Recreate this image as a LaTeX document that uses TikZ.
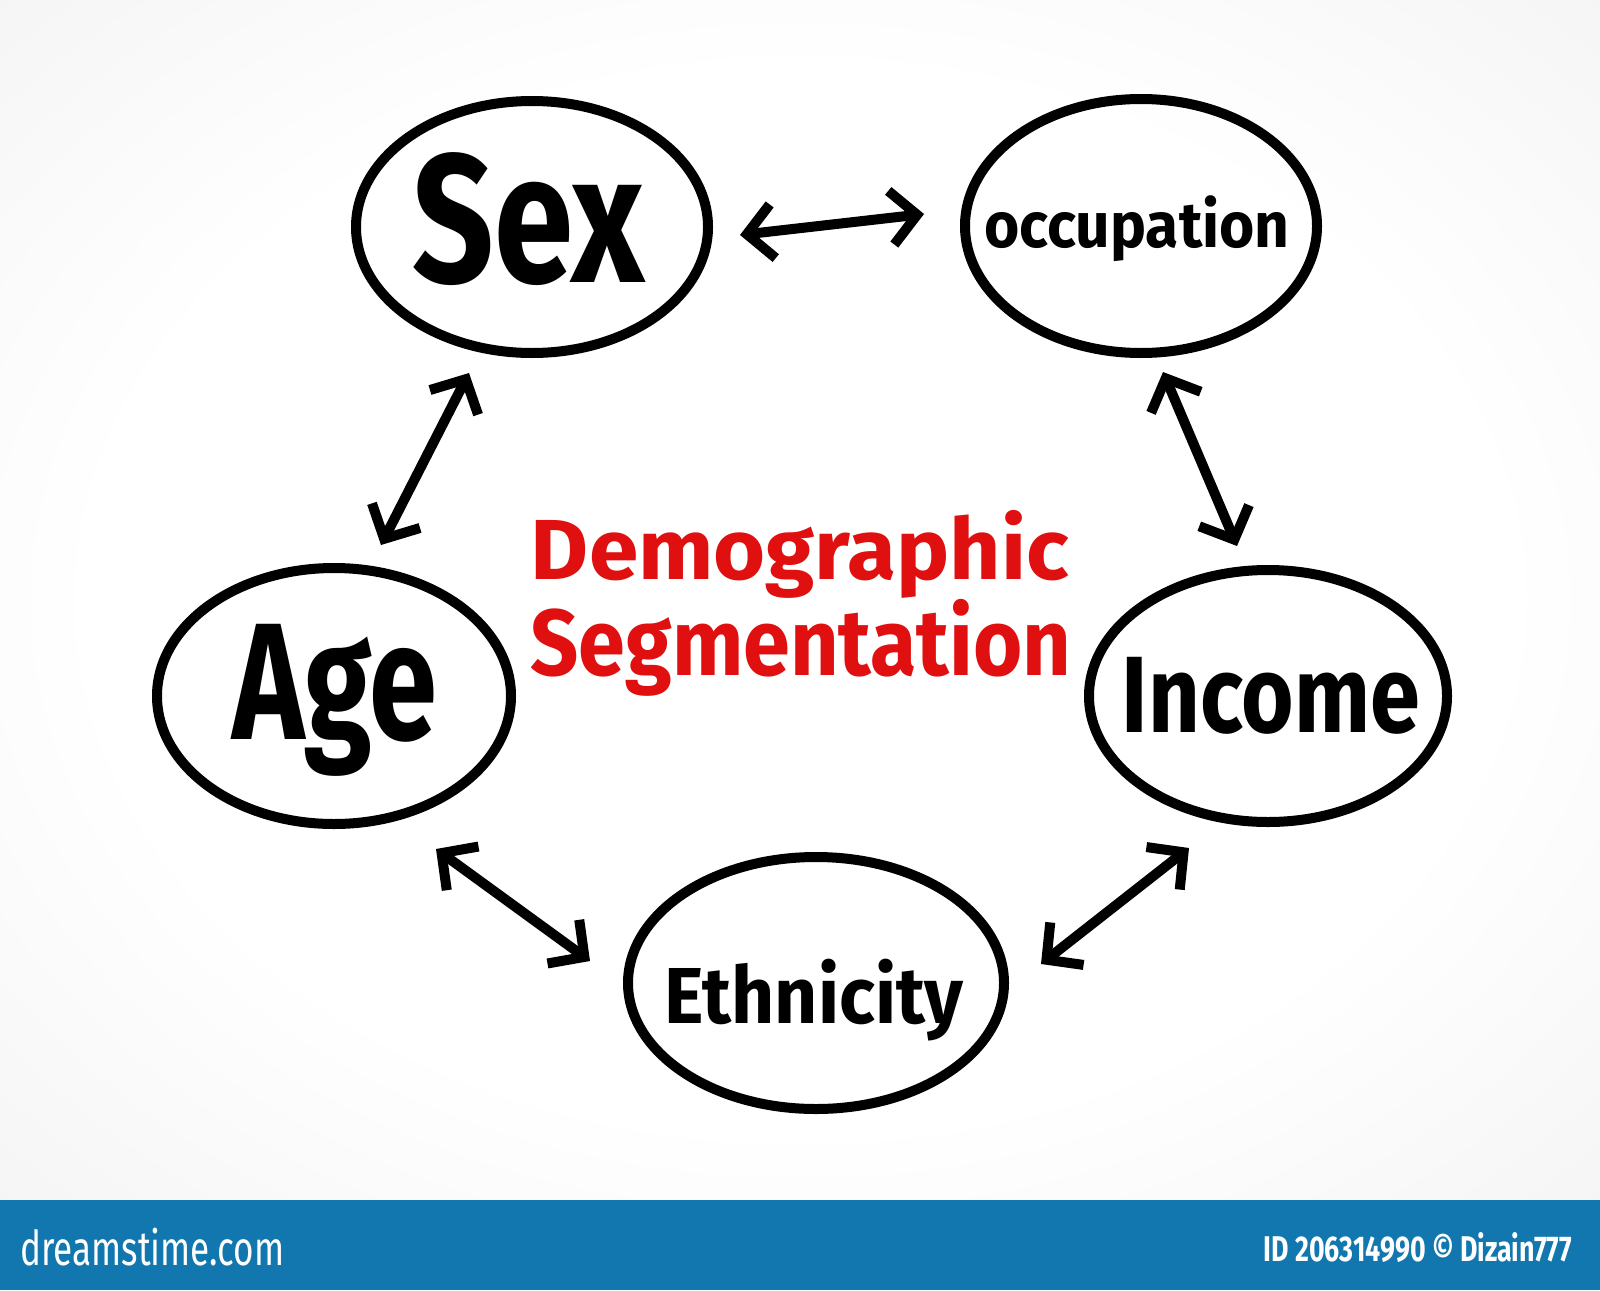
\documentclass[tikz,border=0pt]{standalone}
\usepackage{fontspec}
\setmainfont{Fira Sans}
\usepackage{graphicx}
\usetikzlibrary{shapes.geometric,arrows.meta}
\definecolor{barblue}{HTML}{1177AE}
\definecolor{segred}{HTML}{E01010}
\pgfdeclareradialshading{bgshade}{\pgfpoint{0bp}{0bp}}{color(0bp)=(white); color(22bp)=(white); color(50bp)=(black!8)}
\begin{document}
\begin{tikzpicture}[x=1pt,y=-1pt,
  bubble/.style={ellipse, draw=black, line width=10pt, inner sep=0pt},
  tip/.tip={Straight Barb[length=26pt,width=54pt]},
  arr/.style={tip-tip, line width=10pt, line cap=round, line join=round},
  lbl/.style={inner sep=0pt, font=\bfseries}]
\useasboundingbox (0,0) rectangle (1600,1290);
\shade[shading=bgshade] (0,0) rectangle (1600,1200);
\fill[barblue] (0,1200) rectangle (1600,1290);

% bubbles
\node[bubble, minimum width=352pt, minimum height=252pt] (sex) at (532,227) {};
\node[bubble, minimum width=352pt, minimum height=254pt] (occ) at (1141,226) {};
\node[bubble, minimum width=354pt, minimum height=256pt] (age) at (334,696) {};
\node[bubble, minimum width=358pt, minimum height=252pt] (inc) at (1268,696) {};
\node[bubble, minimum width=376pt, minimum height=252pt] (eth) at (816,983) {};

% labels
\node[lbl] (sexlbl) at (529,219) {\resizebox*{232pt}{133pt}{Sex}};
\node[lbl] (occlbl) at (1137,229) {\resizebox*{305pt}{66pt}{occupation}};
\node[lbl] (agelbl) at (335,700) {\resizebox*{205pt}{152pt}{Age}};
\node[lbl] (inclbl) at (1271,696) {\resizebox*{298pt}{77pt}{Income}};
\node[lbl] (ethlbl) at (814,1000) {\resizebox*{299pt}{82pt}{Ethnicity}};

% title
\node[lbl, text=segred] (t1) at (800,554) {\resizebox*{538pt}{88pt}{Demographic}};
\node[lbl, text=segred] (t2) at (801,648) {\resizebox*{541pt}{97pt}{Segmentation}};

% connectors
\draw[arr] ([shift={(27,8)}]sex.east) -- ([shift={(-36,-12)}]occ.west);
\draw[arr] ([shift={(-63,15)}]sex.south) -- ([shift={(47,-18)}]age.north);
\draw[arr] ([shift={(22,14)}]occ.south) -- ([shift={(-31,-19)}]inc.north);
\draw[arr] ([shift={(102,20)}]age.south) -- ([shift={(-33,-22)}]eth.west);
\draw[arr] ([shift={(-79,21)}]inc.south) -- ([shift={(32,-19)}]eth.east);

% footer
\node[lbl, text=white, anchor=west] (brand) at (20,1247) {\resizebox*{264pt}{38pt}{\mdseries dreamstime.com}};
\node[lbl, text=white, anchor=east] (credit) at (1572,1247) {\resizebox*{308pt}{30pt}{ID 206314990 © Dizain777}};
\end{tikzpicture}
\end{document}
